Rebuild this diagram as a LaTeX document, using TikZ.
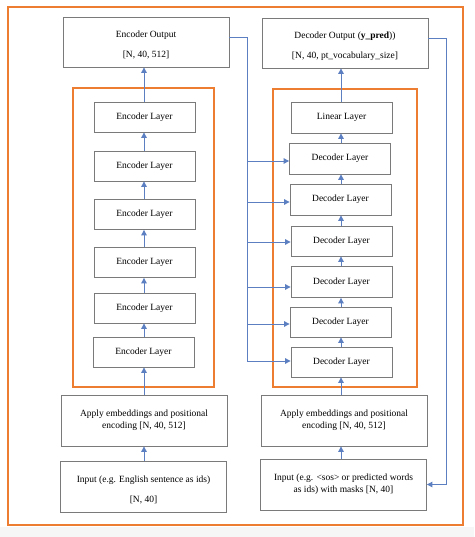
\documentclass[tikz,border=0pt]{standalone}
\usepackage{fontspec}
\setmainfont{Liberation Serif}
\usetikzlibrary{arrows.meta}
\definecolor{frameorange}{HTML}{ED7D31}
\definecolor{arrowblue}{HTML}{5B7FC0}
\definecolor{boxgray}{HTML}{7A7A7A}
\definecolor{stripgray}{HTML}{F6F6F6}
\newcommand{\lowerstrut}{\rule{0pt}{12.5pt}}
\tikzset{
  box/.style={draw=boxgray, line width=0.8pt, fill=white, align=center, inner sep=0pt,
    font=\fontsize{9.5pt}{11.6pt}\selectfont},
  layerbox/.style={box, minimum width=101pt, minimum height=30pt},
  bigbox/.style={box, minimum width=166pt, minimum height=51pt},
  frame/.style={draw=frameorange, line width=2pt},
  arr/.style={draw=arrowblue, line width=0.9pt, -{Triangle[length=5.5pt,width=5.5pt]}},
  line/.style={draw=arrowblue, line width=0.9pt},
}
\begin{document}
\begin{tikzpicture}[x=1pt,y=-1pt]
\useasboundingbox (0,0) rectangle (474,537);
\fill[white] (0,0) rectangle (474,527);
\fill[stripgray] (0,527) rectangle (474,537);
% outer frame
\draw[frame] (8,7) rectangle (463,525);
% inner frames
\draw[frame] (73,88) rectangle (214,387);
\draw[frame] (273,89) rectangle (417,387);

% outputs
\node[bigbox, minimum height=50pt] (encout) at (146,42) {\lowerstrut Encoder Output\\[8.4pt]{[N, 40, 512]}};
\node[bigbox, minimum height=50pt] (decout) at (345,43) {\lowerstrut Decoder Output (\textbf{y\_pred}))\\[8.4pt]{[N, 40, pt\_vocabulary\_size]}};

% encoder layers
\node[layerbox] (el1) at (144.5,117) {Encoder Layer};
\node[layerbox] (el2) at (144.5,166) {Encoder Layer};
\node[layerbox] (el3) at (144.5,214.5) {Encoder Layer};
\node[layerbox] (el4) at (144.5,262.5) {Encoder Layer};
\node[layerbox] (el5) at (144.5,308) {Encoder Layer};
\node[layerbox] (el6) at (143.5,352) {Encoder Layer};

% decoder layers
\node[layerbox, minimum height=31pt] (lin) at (341.5,117.5) {Linear Layer};
\node[layerbox, minimum height=31pt] (dl1) at (340,158.5) {Decoder Layer};
\node[layerbox, minimum height=31pt] (dl2) at (340.5,199.5) {Decoder Layer};
\node[layerbox] (dl3) at (341.5,241) {Decoder Layer};
\node[layerbox, minimum height=31pt] (dl4) at (341.5,282) {Decoder Layer};
\node[layerbox] (dl5) at (340.5,322) {Decoder Layer};
\node[layerbox] (dl6) at (341.5,362) {Decoder Layer};

% embeddings
\node[bigbox] (encemb) at (144,420.5) {Apply embeddings and positional\\encoding [N, 40, 512]};
\node[bigbox] (decemb) at (344,420.5) {Apply embeddings and positional\\encoding [N, 40, 512]};

% inputs
\node[bigbox] (encin) at (143.5,486.5) {\lowerstrut Input (e.g. English sentence as ids)\\[8.4pt]{[N, 40]}};
\node[bigbox] (decin) at (343.5,484.5) {Input (e.g. <sos> or predicted words\\as ids) with masks [N, 40]};

% encoder column arrows
\draw[arr] (encin.north -| 144,0) -- (encemb.south -| 144,0);
\draw[arr] (encemb.north -| 144,0) -- (el6.south -| 144,0);
\draw[arr] (el6.north -| 144,0) -- (el5.south -| 144,0);
\draw[arr] (el5.north -| 144,0) -- (el4.south -| 144,0);
\draw[arr] (el4.north -| 144,0) -- (el3.south -| 144,0);
\draw[arr] (el3.north -| 144,0) -- (el2.south -| 144,0);
\draw[arr] (el2.north -| 144,0) -- (el1.south -| 144,0);
\draw[arr] (el1.north -| 144,0) -- (encout.south -| 144,0);

% decoder column arrows
\draw[arr] (decin.north -| 341,0) -- (decemb.south -| 341,0);
\draw[arr] (decemb.north -| 341,0) -- (dl6.south -| 341,0);
\draw[arr] (dl6.north -| 341,0) -- (dl5.south -| 341,0);
\draw[arr] (dl5.north -| 341,0) -- (dl4.south -| 341,0);
\draw[arr] (dl4.north -| 341,0) -- (dl3.south -| 341,0);
\draw[arr] (dl3.north -| 341,0) -- (dl2.south -| 341,0);
\draw[arr] (dl2.north -| 341,0) -- (dl1.south -| 341,0);
\draw[arr] (dl1.north -| 341,0) -- (lin.south -| 341,0);
\draw[arr] (lin.north -| 341,0) -- (decout.south -| 341,0);

% encoder output to decoder layers
\coordinate (b1) at (247,161);
\coordinate (b2) at (247,202);
\coordinate (b3) at (247,242);
\coordinate (b4) at (247,287);
\coordinate (b5) at (247,324);
\coordinate (b6) at (247,361);
\draw[line] ([yshift=5pt]encout.east) -- ([yshift=5pt]encout.east -| b1) -- (b6);
\draw[arr] (b1) -- (b1 -| dl1.west);
\draw[arr] (b2) -- (b2 -| dl2.west);
\draw[arr] (b3) -- (b3 -| dl3.west);
\draw[arr] (b4) -- (b4 -| dl4.west);
\draw[arr] (b5) -- (b5 -| dl5.west);
\draw[arr] (b6) -- (b6 -| dl6.west);

% feedback loop
\coordinate (fbx) at (446,0);
\draw[arr] ([yshift=5pt]decout.east) -- ([yshift=5pt]decout.east -| fbx) -- (decin.east -| fbx) -- (decin.east);
\end{tikzpicture}
\end{document}
